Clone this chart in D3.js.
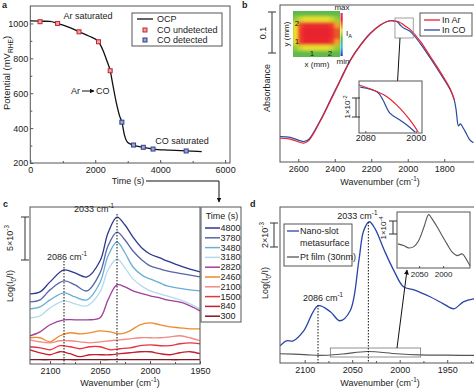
<!DOCTYPE html>
<html>
<head>
<meta charset="utf-8">
<script src="https://cdn.jsdelivr.net/npm/d3@7"></script>
<style>
body { margin: 0; background: #fff; }
svg { display: block; font-family: "Liberation Sans", Arial, sans-serif; }
</style>
</head>
<body>
<script>
// ---- panel a : open circuit potential ----
var ocpTime = [0, 300, 600, 840, 1200, 1500, 1800, 2100, 2250, 2350, 2460, 2550, 2650, 2750, 2820, 2900, 3000, 3180, 3480, 3780, 4300, 4800, 5280];
var ocpPot = [1015, 1013, 1012, 1000, 978, 952, 928, 895, 840, 790, 729, 640, 545, 470, 434, 360, 318, 303, 290, 280, 274, 269, 265];
var sampleTime = [300, 840, 1500, 2100, 2460, 2820, 3180, 3480, 3780, 4800];
var samplePot = [1010, 1000, 952, 895, 729, 434, 303, 290, 280, 269];
var sampleDetected = [false, false, false, false, false, true, true, true, true, true];

// ---- panel b : absorbance ----
var wnB = [2700, 2644, 2570, 2543, 2479, 2424, 2370, 2315, 2260, 2205, 2150, 2104, 2059, 2045, 2030, 2015, 1986, 1931, 1876, 1822, 1767, 1745, 1735, 1722, 1712, 1700, 1685, 1660, 1640];
var absCO = [0.062, 0.060, 0.050, 0.055, 0.102, 0.151, 0.200, 0.249, 0.285, 0.314, 0.334, 0.344, 0.342, 0.336, 0.329, 0.325, 0.318, 0.289, 0.253, 0.216, 0.176, 0.151, 0.127, 0.088, 0.093, 0.086, 0.074, 0.054, 0.047];
var absAr = [0.058, 0.056, 0.046, 0.052, 0.100, 0.149, 0.198, 0.247, 0.284, 0.313, 0.334, 0.344, 0.343, 0.341, 0.337, 0.332, 0.323, 0.294, 0.257, 0.220, 0.178, 0.152];
var zoomWnAr = [2090, 2050, 2030, 2009, 1996];
var zoomAr = [0.3353, 0.3300, 0.3247, 0.3168, 0.3105];
var zoomWnCO = [2088, 2061, 2052, 2041, 2025, 2014, 2001];
var zoomCO = [0.3342, 0.3316, 0.3274, 0.3205, 0.3168, 0.3142, 0.3105];
var heatRows = [
  [0.30, 0.30, 0.30, 0.30, 0.30, 0.30, 0.30, 0.30, 0.30],
  [0.45, 0.55, 0.60, 0.60, 0.60, 0.60, 0.60, 0.55, 0.45],
  [0.60, 0.85, 0.95, 0.95, 0.95, 0.95, 0.95, 0.88, 0.70],
  [0.62, 0.90, 1.00, 1.00, 1.00, 1.00, 1.00, 0.95, 0.80],
  [0.62, 0.90, 1.00, 1.00, 1.00, 1.00, 1.00, 0.95, 0.80],
  [0.60, 0.88, 0.97, 0.97, 0.97, 0.97, 0.97, 0.90, 0.70],
  [0.45, 0.55, 0.60, 0.60, 0.60, 0.60, 0.60, 0.55, 0.45],
  [0.30, 0.30, 0.30, 0.30, 0.30, 0.30, 0.30, 0.30, 0.30]
];

// ---- panel c : spectra vs time (units of 1e-3) ----
var timesC = [4800, 3780, 3480, 3180, 2820, 2460, 2100, 1500, 840, 300];
var wnUpper = [2120, 2110, 2100, 2086, 2075, 2063, 2050, 2042, 2033, 2025, 2017, 2007, 2000, 1990, 1983, 1967, 1950];
var wnLower = [2120, 2110, 2100, 2090, 2080, 2070, 2060, 2050, 2040, 2030, 2020, 2010, 2000, 1990, 1980, 1970, 1960, 1950];
var c4800 = [8.37, 8.60, 9.77, 11.16, 10.81, 10.35, 12.20, 15.47, 17.33, 16.40, 15.00, 13.60, 13.02, 12.56, 12.21, 11.51, 10.93];
var c3780 = [7.44, 7.67, 8.84, 9.88, 9.42, 8.72, 10.80, 13.95, 15.58, 14.65, 13.37, 12.21, 11.63, 11.28, 11.05, 10.70, 10.35];
var c3480 = [6.63, 6.86, 7.67, 8.49, 8.02, 7.67, 9.70, 12.79, 14.42, 13.14, 11.51, 10.47, 10.12, 9.65, 9.30, 8.95, 8.72];
var c3180 = [5.58, 5.81, 6.74, 7.56, 7.21, 6.98, 8.60, 11.16, 12.44, 11.40, 10.12, 9.19, 8.72, 8.37, 8.14, 7.56, 6.63];
var c2820 = [3.49, 3.95, 4.77, 5.35, 5.35, 5.35, 5.58, 7.67, 9.42, 9.19, 8.72, 8.37, 8.14, 7.91, 7.67, 7.33, 6.40];
var c2460 = [3.26, 3.26, 2.79, 3.49, 3.84, 3.72, 3.84, 4.07, 3.95, 3.72, 4.07, 4.77, 5.00, 4.77, 4.53, 4.42, 4.30, 4.30];
var c2100 = [3.02, 2.79, 2.67, 2.91, 2.91, 2.79, 2.67, 2.79, 2.91, 3.02, 3.14, 3.26, 3.26, 3.26, 3.37, 3.49, 3.26, 2.91];
var c1500 = [2.21, 2.09, 1.86, 2.33, 2.21, 1.98, 2.21, 2.21, 1.86, 1.98, 2.09, 2.33, 2.44, 2.33, 2.33, 2.56, 2.67, 2.56];
var c840 = [1.86, 1.51, 1.28, 1.63, 1.40, 1.05, 1.28, 1.28, 1.28, 1.40, 1.51, 1.63, 1.63, 1.40, 1.28, 1.51, 1.63, 1.40];
var c300 = [0.72, 0.70, 0.70, 0.72, 0.70, 0.70, 0.72, 0.70, 0.70, 0.72, 0.70, 0.70, 0.70, 0.72, 0.70, 0.70, 0.72, 0.70];

// ---- panel d : nano-slot vs Pt film (units of 1e-3, inset 1e-4) ----
var wnNano = [2126, 2119, 2112, 2101, 2086, 2073, 2063, 2052, 2043, 2038, 2032, 2026, 2016, 2006, 1996, 1985, 1968, 1954, 1943, 1933, 1922, 1905];
var nano = [0.83, 1.25, 1.25, 2.08, 4.17, 3.67, 2.92, 3.78, 7.92, 10.4, 11.17, 10.6, 8.75, 7.08, 5.75, 5.5, 4.92, 4.33, 3.92, 4.5, 4.75, 4.8];
var wnPt = [2126, 2100, 2084, 2060, 2034, 2003, 1979, 1950, 1926, 1900];
var ptFilm = [0.17, 0.10, 0.03, 0.15, 0.36, 0.17, 0.08, 0.05, 0.03, 0.03];
var wnPtZoom = [2094, 2082, 2071, 2061, 2051, 2040, 2030, 2023, 2012, 2002, 1992, 1981, 1971, 1960, 1950, 1944];
var ptZoom = [1.85, 1.72, 1.54, 1.64, 2.10, 3.13, 4.10, 3.77, 3.13, 2.48, 1.85, 1.21, 0.95, 1.08, 0.56, 0.18];

var paletteC = ['#2b3a8a', '#5466a6', '#6aaed6', '#b3dbee', '#a23f98', '#ee8a2a', '#f28a84', '#e8343e', '#c41f2e', '#7c1828'];

var svg = d3.select('body').append('svg').attr('width', 474).attr('height', 388);
svg.append('rect').attr('width', 474).attr('height', 388).attr('fill', '#fff');
var defs = svg.append('defs');
defs.append('marker').attr('id', 'arr').attr('viewBox', '0 0 10 10').attr('refX', 9).attr('refY', 5)
  .attr('markerWidth', 5).attr('markerHeight', 5).attr('orient', 'auto')
  .append('path').attr('d', 'M0,0L10,5L0,10z').attr('fill', '#111');

var frameColor = '#555';
var curve = d3.curveCatmullRom.alpha(0.5);

function rich(sel, parts, fs) {
  var shift = 0;
  parts.forEach(function(p) {
    var t = sel.append('tspan').text(p[0]);
    var target = p[1] === 'sup' ? -fs * 0.4 : p[1] === 'sub' ? fs * 0.3 : 0;
    t.attr('dy', target - shift);
    if (p[1]) t.attr('font-size', fs * 0.7);
    shift = target;
  });
}
function label(x, y, parts, opts) {
  opts = opts || {};
  var fs = opts.size || 9;
  var t = svg.append('text').attr('font-size', fs).attr('fill', '#222')
    .attr('text-anchor', opts.anchor || 'middle');
  if (opts.rotate) t.attr('transform', 'translate(' + x + ',' + y + ') rotate(-90)');
  else t.attr('x', x).attr('y', y);
  if (opts.bold) t.attr('font-weight', 'bold');
  rich(t, typeof parts === 'string' ? [[parts]] : parts, fs);
  return t;
}
function frame(x0, y0, x1, y1) {
  svg.append('rect').attr('x', x0).attr('y', y0).attr('width', x1 - x0).attr('height', y1 - y0)
    .attr('fill', 'none').attr('stroke', frameColor).attr('stroke-width', 1);
}
function ticks(axis, tx, ty, size, pad, fs) {
  var g = svg.append('g').attr('transform', 'translate(' + tx + ',' + ty + ')')
    .call(axis.tickSize(-size).tickPadding(pad));
  g.attr('font-family', null).attr('font-size', fs || 9);
  g.select('.domain').remove();
  g.selectAll('line').attr('stroke', frameColor);
  g.selectAll('text').attr('fill', '#222');
  return g;
}
function scaleBar(x, y0, y1) {
  svg.append('path').attr('d', 'M' + (x - 4) + ',' + y0 + 'H' + (x + 4) + 'M' + x + ',' + y0 + 'V' + y1 + 'M' + (x - 4) + ',' + y1 + 'H' + (x + 4))
    .attr('stroke', '#333').attr('fill', 'none');
}
function clip(id, x0, y0, x1, y1) {
  defs.append('clipPath').attr('id', id).append('rect')
    .attr('x', x0).attr('y', y0).attr('width', x1 - x0).attr('height', y1 - y0);
}

// ================= panel a =================
var xA = d3.scaleLinear().domain([0, 6150]).range([30.3, 230]);
var yA = d3.scaleLinear().domain([200, 1100]).range([163, 6]);
ticks(d3.axisBottom(xA).tickValues([0, 2000, 4000, 6000]).tickFormat(d3.format('d')), 0, 163, 3, 4);
ticks(d3.axisBottom(xA).tickValues([1000, 3000, 5000]).tickFormat(''), 0, 163, 2, 4);
ticks(d3.axisLeft(yA).tickValues([200, 400, 600, 800, 1000]).tickFormat(d3.format('d')), 30.3, 0, 3, 2);
ticks(d3.axisLeft(yA).tickValues([300, 500, 700, 900]).tickFormat(''), 30.3, 0, 2, 2);
frame(30.3, 6, 230, 163);

svg.append('path').datum(ocpTime.map(function(t, i) { return [t, ocpPot[i]]; }))
  .attr('d', d3.line().x(function(d) { return xA(d[0]); }).y(function(d) { return yA(d[1]); }).curve(d3.curveMonotoneX))
  .attr('fill', 'none').attr('stroke', '#111').attr('stroke-width', 1.3);

var markColor = function(det) { return det ? '#2e3f8a' : '#c0282e'; };
var markFill = function(det) { return det ? '#9aa6d6' : '#f0a0a4'; };
svg.selectAll('rect.sample').data(sampleTime).enter().append('rect').attr('class', 'sample')
  .attr('x', function(d) { return xA(d) - 2; })
  .attr('y', function(d, i) { return yA(samplePot[i]) - 2; })
  .attr('width', 4).attr('height', 4)
  .attr('fill', function(d, i) { return markFill(sampleDetected[i]); })
  .attr('stroke', function(d, i) { return markColor(sampleDetected[i]); })
  .attr('stroke-width', 1);

label(88, 19, 'Ar saturated');
label(182, 144, 'CO saturated');
label(80, 94, 'Ar', { anchor: 'end' });
label(96, 94, 'CO', { anchor: 'start' });
svg.append('line').attr('x1', 82).attr('x2', 94).attr('y1', 91).attr('y2', 91)
  .attr('stroke', '#111').attr('marker-end', 'url(#arr)');

// legend a
svg.append('rect').attr('x', 132).attr('y', 13).attr('width', 90).attr('height', 33)
  .attr('fill', '#fff').attr('stroke', frameColor);
svg.append('line').attr('x1', 137).attr('x2', 153).attr('y1', 19).attr('y2', 19).attr('stroke', '#111').attr('stroke-width', 1.3);
label(157, 22, 'OCP', { anchor: 'start' });
[false, true].forEach(function(det, i) {
  var y = 30 + i * 10;
  svg.append('rect').attr('x', 143).attr('y', y - 2).attr('width', 4).attr('height', 4)
    .attr('fill', markFill(det)).attr('stroke', markColor(det));
  label(157, y + 3, det ? 'CO detected' : 'CO undetected', { anchor: 'start' });
});

label(10, 73, [['Potential (mV'], ['RHE', 'sub'], [')']], { rotate: true, size: 9.5 });
label(128, 184, 'Time (s)');
svg.append('path').attr('d', 'M146,181H219V202').attr('fill', 'none').attr('stroke', '#111')
  .attr('marker-end', 'url(#arr)');
label(2, 8, 'a', { anchor: 'start', bold: true });

// ================= panel b =================
var xB = d3.scaleLinear().domain([2700, 1600]).range([280, 480.75]);
var yB = d3.scaleLinear().domain([0, 0.383]).range([162, 5]);
clip('clipB', 280, 5, 474, 162);
ticks(d3.axisBottom(xB).tickValues([2600, 2400, 2200, 2000, 1800]).tickFormat(d3.format('d')), 0, 162, 3, 4);
frame(280, 5, 490, 162);

var lineB = d3.line().x(function(d) { return xB(d[0]); }).y(function(d) { return yB(d[1]); }).curve(curve);
var gB = svg.append('g').attr('clip-path', 'url(#clipB)');
gB.append('path').datum(absCO.map(function(v, i) { return [wnB[i], v]; }))
  .attr('d', lineB).attr('fill', 'none').attr('stroke', '#2a4aa0').attr('stroke-width', 1.2);
gB.append('path').datum(absAr.map(function(v, i) { return [wnB[i], v]; }))
  .attr('d', lineB).attr('fill', 'none').attr('stroke', '#e8202e').attr('stroke-width', 1.2);

// small box on the peak + arrow to zoom inset
svg.append('rect').attr('x', xB(2070)).attr('y', 18).attr('width', xB(1970) - xB(2070)).attr('height', 20)
  .attr('fill', 'none').attr('stroke', '#888').attr('stroke-width', 0.8);
svg.append('line').attr('x1', 400).attr('y1', 38).attr('x2', 397).attr('y2', 91)
  .attr('stroke', '#111').attr('stroke-width', 1).attr('marker-end', 'url(#arr)');

// zoom inset
var xBi = d3.scaleLinear().domain([2090, 1990]).range([359, 422]);
var yBi = d3.scaleLinear().domain([0.310, 0.3374]).range([133, 81]);
clip('clipBi', 359, 81, 422, 133);
svg.append('rect').attr('x', 359).attr('y', 81).attr('width', 63).attr('height', 52).attr('fill', '#fff');
var lineBi = d3.line().x(function(d) { return xBi(d[0]); }).y(function(d) { return yBi(d[1]); }).curve(curve);
var gBi = svg.append('g').attr('clip-path', 'url(#clipBi)');
gBi.append('path').datum(zoomCO.map(function(v, i) { return [zoomWnCO[i], v]; }))
  .attr('d', lineBi).attr('fill', 'none').attr('stroke', '#2a4aa0').attr('stroke-width', 1.2);
gBi.append('path').datum(zoomAr.map(function(v, i) { return [zoomWnAr[i], v]; }))
  .attr('d', lineBi).attr('fill', 'none').attr('stroke', '#e8202e').attr('stroke-width', 1.2);
ticks(d3.axisBottom(xBi).tickValues([2080, 2000]).tickFormat(d3.format('d')), 0, 133, 2, 2);
frame(359, 81, 422, 133);
scaleBar(356, 98, 117);
label(350, 107, [['1\u00d710'], ['-2', 'sup']], { rotate: true, size: 8 });

// heat map inset
var hx = d3.scaleBand().domain(d3.range(heatRows[0].length)).range([293, 340]);
var hy = d3.scaleBand().domain(d3.range(heatRows.length)).range([11, 57]);
var heatColor = d3.scaleLinear().domain([0.3, 0.5, 0.62, 0.8, 1])
  .range(['#5dba4a', '#a8d23a', '#f2e22a', '#f0552a', '#e8202e']);
defs.append('filter').attr('id', 'blur').attr('x', '-20%').attr('y', '-20%').attr('width', '140%').attr('height', '140%')
  .append('feGaussianBlur').attr('stdDeviation', 1.8);
clip('clipH', 293, 11, 340, 57);
var gH = svg.append('g').attr('clip-path', 'url(#clipH)');
gH.append('rect').attr('x', 293).attr('y', 11).attr('width', 47).attr('height', 46).attr('fill', '#5dba4a');
var gHc = gH.append('g').attr('filter', 'url(#blur)');
heatRows.forEach(function(row, r) {
  row.forEach(function(v, c) {
    gHc.append('rect').attr('x', hx(c) - 0.5).attr('y', hy(r) - 0.5)
      .attr('width', hx.bandwidth() + 1).attr('height', hy.bandwidth() + 1).attr('fill', heatColor(v));
  });
});
var grad = defs.append('linearGradient').attr('id', 'cbar').attr('x1', 0).attr('x2', 0).attr('y1', 0).attr('y2', 1);
[[0, '#e03090'], [0.15, '#e8202e'], [0.4, '#f2e22a'], [0.6, '#5dba4a'], [0.8, '#30c0e0'], [1, '#2030d0']]
  .forEach(function(s) { grad.append('stop').attr('offset', s[0]).attr('stop-color', s[1]); });
svg.append('rect').attr('x', 340.5).attr('y', 13).attr('width', 2.2).attr('height', 43).attr('fill', 'url(#cbar)');
label(342, 10, 'max', { size: 8 });
label(343, 64, 'min', { size: 8 });
label(346, 36, [['I'], ['A', 'sub']], { anchor: 'start', size: 8 });
label(297, 26, '2', { size: 8 });
label(297, 44, '1', { size: 8 });
label(312, 56, '1', { size: 8 });
label(330, 56, '2', { size: 8 });
label(289, 34, 'y (mm)', { rotate: true, size: 8 });
label(317, 67, 'x (mm)', { size: 8 });

// legend b
svg.append('rect').attr('x', 420).attr('y', 13).attr('width', 52).attr('height', 23)
  .attr('fill', '#fff').attr('stroke', frameColor);
[['In Ar', '#e8202e'], ['In CO', '#2a4aa0']].forEach(function(d, i) {
  var y = 20 + i * 10;
  svg.append('line').attr('x1', 424).attr('x2', 440).attr('y1', y).attr('y2', y).attr('stroke', d[1]).attr('stroke-width', 1.3);
  label(442, y + 3, d[0], { anchor: 'start' });
});

scaleBar(272, 12, 53);
label(266, 33, '0.1', { rotate: true });
label(270, 88, 'Absorbance', { rotate: true });
label(380, 185, [['Wavenumber (cm'], ['-1', 'sup'], [')']]);
label(242, 8, 'b', { anchor: 'start', bold: true });

// ================= panel c =================
var xC = d3.scaleLinear().domain([2120, 1950]).range([30, 200]);
var yC = d3.scaleLinear().domain([0.2, 18.5]).range([364, 207]);
var seriesC = [c4800, c3780, c3480, c3180, c2820, c2460, c2100, c1500, c840, c300];
var colorC = d3.scaleOrdinal().domain(timesC).range(paletteC);
var lineC = d3.line().x(function(d) { return xC(d[0]); }).y(function(d) { return yC(d[1]); }).curve(curve);
seriesC.slice().reverse().forEach(function(vals, k) {
  var i = seriesC.length - 1 - k;
  var wn = vals.length === wnUpper.length ? wnUpper : wnLower;
  svg.append('path').datum(vals.map(function(v, j) { return [wn[j], v]; }))
    .attr('d', lineC).attr('fill', 'none').attr('stroke', colorC(timesC[i])).attr('stroke-width', 1.3);
});
ticks(d3.axisBottom(xC).tickValues([2100, 2050, 2000, 1950]).tickFormat(d3.format('d')), 0, 364, 3, 4);
ticks(d3.axisBottom(xC).tickValues([2075, 2025, 1975]).tickFormat(''), 0, 364, 2, 4);
frame(30, 207, 200, 364);

function dashed(x, y0, y1) {
  svg.append('line').attr('x1', x).attr('x2', x).attr('y1', y0).attr('y2', y1)
    .attr('stroke', '#111').attr('stroke-width', 1).attr('stroke-dasharray', '1.5,1.5');
}
dashed(xC(2086), 261, 364);
dashed(xC(2033), 214, 364);
label(xC(2033) - 23, 212, [['2033 cm'], ['-1', 'sup']]);
label(xC(2086) + 3, 260, [['2086 cm'], ['-1', 'sup']]);

// legend c
svg.append('rect').attr('x', 201).attr('y', 207).attr('width', 40).attr('height', 115)
  .attr('fill', '#fff').attr('stroke', frameColor);
label(222, 219, 'Time (s)');
timesC.forEach(function(t, i) {
  var y = 228 + i * 9.8;
  svg.append('line').attr('x1', 205).attr('x2', 220).attr('y1', y).attr('y2', y)
    .attr('stroke', colorC(t)).attr('stroke-width', 1.5);
  label(220.5, y + 3, String(t), { anchor: 'start' });
});

scaleBar(25, 217, 260);
label(13, 238, [['5\u00d710'], ['-3', 'sup']], { rotate: true });
label(13, 286, [['Log(I'], ['0', 'sub'], ['/I)']], { rotate: true });
label(120, 386, [['Wavenumber (cm'], ['-1', 'sup'], [')']]);
label(3, 207, 'c', { anchor: 'start', bold: true });

// ================= panel d =================
var xD = d3.scaleLinear().domain([2126, 1900]).range([280, 494.7]);
var yD = d3.scaleLinear().domain([-0.6, 12.4]).range([363, 207]);
clip('clipD', 280, 207, 474, 363);
var lineD = d3.line().x(function(d) { return xD(d[0]); }).y(function(d) { return yD(d[1]); }).curve(curve);
var gD = svg.append('g').attr('clip-path', 'url(#clipD)');
gD.append('path').datum(ptFilm.map(function(v, i) { return [wnPt[i], v]; }))
  .attr('d', lineD).attr('fill', 'none').attr('stroke', '#555').attr('stroke-width', 1.2);
gD.append('path').datum(nano.map(function(v, i) { return [wnNano[i], v]; }))
  .attr('d', lineD).attr('fill', 'none').attr('stroke', '#2a45a8').attr('stroke-width', 1.3);
ticks(d3.axisBottom(xD).tickValues([2100, 2050, 2000, 1950]).tickFormat(d3.format('d')), 0, 363, 3, 4);
ticks(d3.axisBottom(xD).tickValues([2075, 2025, 1975, 1925]).tickFormat(''), 0, 363, 2, 4);
frame(280, 207, 490, 363);

dashed(xD(2086), 305, 363);
dashed(xD(2033), 222, 363);
label(xD(2033) - 11, 219, [['2033 cm'], ['-1', 'sup']]);
label(xD(2086) + 5, 301, [['2086 cm'], ['-1', 'sup']]);

// box around Pt film + arrow to inset
svg.append('rect').attr('x', xD(2073)).attr('y', 348).attr('width', xD(1978) - xD(2073)).attr('height', 9)
  .attr('fill', 'none').attr('stroke', '#777').attr('stroke-width', 0.8);
svg.append('line').attr('x1', 397).attr('y1', 348).attr('x2', 407).attr('y2', 270)
  .attr('stroke', '#111').attr('stroke-width', 1).attr('marker-end', 'url(#arr)');

// inset d
var xDi = d3.scaleLinear().domain([2096, 1944]).range([397, 470]);
var yDi = d3.scaleLinear().domain([0, 4.3]).range([268, 212]);
svg.append('rect').attr('x', 397).attr('y', 212).attr('width', 73).attr('height', 56).attr('fill', '#fff');
svg.append('path').datum(ptZoom.map(function(v, i) { return [wnPtZoom[i], v]; }))
  .attr('d', d3.line().x(function(d) { return xDi(d[0]); }).y(function(d) { return yDi(d[1]); }).curve(curve))
  .attr('fill', 'none').attr('stroke', '#555').attr('stroke-width', 1.1);
ticks(d3.axisBottom(xDi).tickValues([2050, 2000]).tickFormat(d3.format('d')), 0, 268, 2, 3, 8);
frame(397, 212, 470, 268);
scaleBar(393, 221, 234);
label(386, 228, [['1\u00d710'], ['-4', 'sup']], { rotate: true, size: 8 });

// legend d
svg.append('rect').attr('x', 284).attr('y', 224).attr('width', 68).attr('height', 42)
  .attr('fill', '#fff').attr('stroke', frameColor);
svg.append('line').attr('x1', 287).attr('x2', 299).attr('y1', 231).attr('y2', 231).attr('stroke', '#2a45a8').attr('stroke-width', 1.3);
label(300, 234, 'Nano-slot', { anchor: 'start' });
label(300, 246, 'metasurface', { anchor: 'start' });
svg.append('line').attr('x1', 287).attr('x2', 299).attr('y1', 257).attr('y2', 257).attr('stroke', '#555').attr('stroke-width', 1.3);
label(300, 260, 'Pt film (30nm)', { anchor: 'start' });

scaleBar(274, 223, 247);
label(268, 235, [['2\u00d710'], ['-3', 'sup']], { rotate: true });
label(268, 283, [['Log(I'], ['0', 'sub'], ['/I)']], { rotate: true });
label(380, 386, [['Wavenumber (cm'], ['-1', 'sup'], [')']]);
label(250, 207, 'd', { anchor: 'start', bold: true });
</script>
</body>
</html>
